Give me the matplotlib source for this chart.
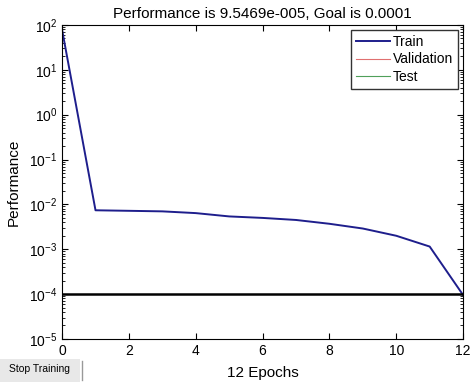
import numpy as np
import matplotlib
matplotlib.use("Agg")
import matplotlib.pyplot as plt
from matplotlib.patches import Rectangle

plt.rcParams['font.family'] = ['Liberation Sans', 'DejaVu Sans']

# Data read from the training record
epochs = list(range(13))
train_perf = [78, 0.0074, 0.0072, 0.0070, 0.0064, 0.0054, 0.0050,
              0.0045, 0.0037, 0.0029, 0.0020, 0.00115, 9.5469e-5]
goal = 1e-4
title_text = "Performance is 9.5469e-005, Goal is 0.0001"

fig = plt.figure(figsize=(4.74, 3.82), dpi=100)
ax = fig.add_axes([0.131, 0.1126, 0.846, 0.822])

ax.plot(epochs, train_perf, color='#1e1e8c', lw=1.4, label='Train')
ax.plot([], [], color='#e07070', lw=0.8, label='Validation')
ax.plot([], [], color='#4fa05a', lw=0.8, label='Test')
ax.axhline(goal, color='black', lw=1.8)

ax.set_yscale('log')
ax.set_xlim(0, 12)
ax.set_ylim(1e-5, 1e2)
ax.set_xticks(range(0, 13, 2))
ax.set_yticks([10.0 ** k for k in range(-5, 3)])
ax.tick_params(which='both', direction='in', top=True, right=True, labelsize=10)
ax.tick_params(which='major', length=4)
ax.tick_params(which='minor', length=2)

ax.set_title(title_text, fontsize=11, pad=5)
ax.set_xlabel("12 Epochs", fontsize=11, labelpad=6)
ax.set_ylabel("Performance", fontsize=11, labelpad=6)

leg = ax.legend(loc='upper right', fontsize=10, fancybox=False, framealpha=1,
                edgecolor='#333333', handlelength=2.5, borderaxespad=0.35,
                labelspacing=0.27, handletextpad=0.2, borderpad=0.35)
leg.get_frame().set_linewidth(1.0)

# "Stop Training" button at the bottom left
fig.patches.append(Rectangle((0, 0), 0.168, 0.06, transform=fig.transFigure,
                             facecolor='#e8e8e8', edgecolor='none'))
fig.lines.append(plt.Line2D([0.172, 0.172], [0.005, 0.055], transform=fig.transFigure,
                            color='#999999', lw=1))
fig.text(0.02, 0.033, "Stop Training", fontsize=7.5, va='center', ha='left')

fig.savefig("out.png", dpi=100)
